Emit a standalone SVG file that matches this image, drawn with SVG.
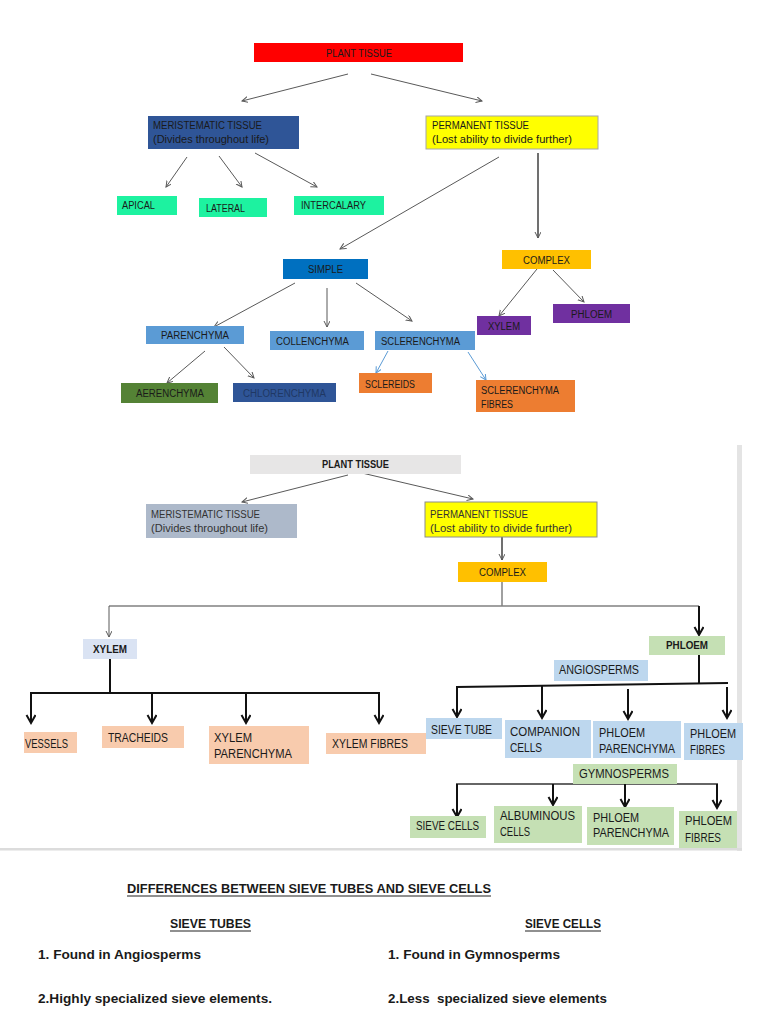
<svg xmlns="http://www.w3.org/2000/svg" width="768" height="1024" viewBox="0 0 768 1024">
<style>
text{font-family:"Liberation Sans",Arial,sans-serif;fill:#1a1a1a}
.s{font-size:10px}
.m{font-size:12px}
.b{font-weight:bold}
.g{fill:#333}
.thin{stroke:#595959;stroke-width:1;fill:none}
.dark{stroke:#404040;stroke-width:1.5;fill:none}
.blue{stroke:#5B9BD5;stroke-width:1;fill:none}
.gline{stroke:#808080;stroke-width:1.5;fill:none}
.bk{stroke:#111;stroke-width:2;fill:none}
.bt{font-size:13px;font-weight:bold}
</style>
<defs>
<marker id="ah" markerUnits="userSpaceOnUse" markerWidth="8" markerHeight="8" refX="6" refY="3" orient="auto"><path d="M0,0 L6,3 L0,6" stroke="#595959" stroke-width="1" fill="none"/></marker>
<marker id="ahb" markerUnits="userSpaceOnUse" markerWidth="8" markerHeight="8" refX="6" refY="3" orient="auto"><path d="M0,0 L6,3 L0,6" stroke="#5B9BD5" stroke-width="1" fill="none"/></marker>
<marker id="ahk" markerUnits="userSpaceOnUse" markerWidth="12" markerHeight="12" refX="9" refY="5" orient="auto"><path d="M1,0.5 L9,5 L1,9.5" stroke="#111" stroke-width="2" fill="none"/></marker>
</defs>
<rect width="768" height="1024" fill="#fff"/>
<!-- page edges -->
<rect x="737" y="445" width="5" height="406" fill="#E4E4E4"/>
<rect x="0" y="848" width="742" height="2.5" fill="#DCDCDC"/>

<g id="connectors">
<line class="thin" x1="348" y1="74" x2="242" y2="101" marker-end="url(#ah)"/>
<line class="thin" x1="371" y1="74" x2="482" y2="101" marker-end="url(#ah)"/>
<line class="thin" x1="187" y1="157" x2="166" y2="187" marker-end="url(#ah)"/>
<line class="thin" x1="219" y1="156" x2="242" y2="187" marker-end="url(#ah)"/>
<line class="thin" x1="255" y1="153" x2="317" y2="187" marker-end="url(#ah)"/>
<line class="thin" x1="499" y1="157" x2="340" y2="249" marker-end="url(#ah)"/>
<line class="dark" x1="538" y1="153" x2="538" y2="238" marker-end="url(#ah)"/>
<line class="thin" x1="295" y1="283" x2="214" y2="327" marker-end="url(#ah)"/>
<line class="thin" x1="327" y1="288" x2="327" y2="327" marker-end="url(#ah)"/>
<line class="thin" x1="356" y1="283" x2="412" y2="321" marker-end="url(#ah)"/>
<line class="thin" x1="537" y1="269" x2="499" y2="316" marker-end="url(#ah)"/>
<line class="thin" x1="553" y1="270" x2="584" y2="302" marker-end="url(#ah)"/>
<line class="thin" x1="205" y1="351" x2="167" y2="383" marker-end="url(#ah)"/>
<line class="thin" x1="224" y1="347" x2="254" y2="378" marker-end="url(#ah)"/>
<line class="blue" x1="388" y1="351" x2="376" y2="373" marker-end="url(#ahb)"/>
<line class="blue" x1="468" y1="352" x2="486" y2="380" marker-end="url(#ahb)"/>

<line class="thin" x1="348" y1="475" x2="242" y2="502" marker-end="url(#ah)"/>
<line class="thin" x1="362" y1="473" x2="473" y2="499" marker-end="url(#ah)"/>
<line class="dark" x1="502" y1="537" x2="502" y2="560" marker-end="url(#ah)"/>
<polyline class="gline" points="502,582 502,606"/>
<line class="gline" x1="109" y1="606" x2="699" y2="606"/>
<line class="thin" x1="109" y1="606" x2="109" y2="637" marker-end="url(#ah)"/>
<line class="bk" x1="699" y1="606" x2="699" y2="635" marker-end="url(#ahk)"/>

<line class="bk" x1="110" y1="659" x2="110" y2="693"/>
<line class="bk" x1="30" y1="693" x2="380" y2="693"/>
<line class="bk" x1="31" y1="693" x2="31" y2="723" marker-end="url(#ahk)"/>
<line class="bk" x1="152" y1="693" x2="152" y2="723" marker-end="url(#ahk)"/>
<line class="bk" x1="246" y1="693" x2="246" y2="723" marker-end="url(#ahk)"/>
<line class="bk" x1="379" y1="693" x2="379" y2="723" marker-end="url(#ahk)"/>

<line class="bk" x1="699" y1="655" x2="699" y2="684"/>
<line class="bk" x1="456" y1="687" x2="728" y2="683"/>
<line class="bk" x1="457" y1="687" x2="457" y2="717" marker-end="url(#ahk)"/>
<line class="bk" x1="542" y1="686" x2="542" y2="718" marker-end="url(#ahk)"/>
<line class="bk" x1="628" y1="689" x2="628" y2="719" marker-end="url(#ahk)"/>
<line class="bk" x1="727" y1="687" x2="727" y2="718" marker-end="url(#ahk)"/>

<line class="gline" x1="456" y1="784" x2="718" y2="784" style="stroke:#333"/>
<line class="bk" x1="457" y1="784" x2="457" y2="817" marker-end="url(#ahk)"/>
<line class="bk" x1="553" y1="784" x2="553" y2="805" marker-end="url(#ahk)"/>
<line class="bk" x1="625" y1="784" x2="625" y2="807" marker-end="url(#ahk)"/>
<line class="bk" x1="717" y1="784" x2="717" y2="808" marker-end="url(#ahk)"/>
</g>

<!-- top tree -->
<g id="plant1"><rect x="254" y="43" width="209" height="19" fill="#FF0000"/><text class="s" x="326" y="57" textLength="66" lengthAdjust="spacingAndGlyphs">PLANT TISSUE</text></g>
<g id="meri1"><rect x="148" y="116" width="151" height="33" fill="#2F5597"/><text class="s" x="153" y="129" textLength="109" lengthAdjust="spacingAndGlyphs">MERISTEMATIC TISSUE</text><text class="s" x="153" y="143" textLength="116" lengthAdjust="spacingAndGlyphs">(Divides throughout life)</text></g>
<g id="perm1"><rect x="426" y="116" width="172" height="33" fill="#FFFF00" stroke="#A6A6A6"/><text class="s" x="432" y="129" textLength="97" lengthAdjust="spacingAndGlyphs">PERMANENT TISSUE</text><text class="s" x="432" y="143" textLength="140" lengthAdjust="spacingAndGlyphs">(Lost ability to divide further)</text></g>
<g id="apical"><rect x="117" y="196" width="60" height="19" fill="#1DF2A0"/><text class="s" x="122" y="209" textLength="33" lengthAdjust="spacingAndGlyphs">APICAL</text></g>
<g id="lateral"><rect x="199" y="198" width="68" height="19" fill="#1DF2A0"/><text class="s" x="206" y="212" textLength="39" lengthAdjust="spacingAndGlyphs">LATERAL</text></g>
<g id="intercalary"><rect x="294" y="196" width="90" height="19" fill="#1DF2A0"/><text class="s" x="301" y="209" textLength="65" lengthAdjust="spacingAndGlyphs">INTERCALARY</text></g>
<g id="simple"><rect x="283" y="259" width="85" height="20" fill="#0070C0"/><text class="s" x="308" y="273" textLength="35" lengthAdjust="spacingAndGlyphs">SIMPLE</text></g>
<g id="complex1"><rect x="502" y="250" width="89" height="19" fill="#FFC000"/><text class="s" x="523" y="264" textLength="47" lengthAdjust="spacingAndGlyphs">COMPLEX</text></g>
<g id="xylem1"><rect x="477" y="316" width="54" height="19" fill="#7030A0"/><text class="s" x="488" y="330" textLength="32" lengthAdjust="spacingAndGlyphs">XYLEM</text></g>
<g id="phloem1"><rect x="553" y="304" width="77" height="19" fill="#7030A0"/><text class="s" x="571" y="318" textLength="41" lengthAdjust="spacingAndGlyphs">PHLOEM</text></g>
<g id="parenchyma"><rect x="146" y="326" width="98" height="18" fill="#5B9BD5"/><text class="s" x="161" y="339" textLength="68" lengthAdjust="spacingAndGlyphs">PARENCHYMA</text></g>
<g id="collenchyma"><rect x="270" y="331" width="94" height="19" fill="#5B9BD5"/><text class="s" x="276" y="345" textLength="73" lengthAdjust="spacingAndGlyphs">COLLENCHYMA</text></g>
<g id="sclerenchyma"><rect x="375" y="331" width="100" height="19" fill="#5B9BD5"/><text class="s" x="381" y="345" textLength="79" lengthAdjust="spacingAndGlyphs">SCLERENCHYMA</text></g>
<g id="aerenchyma"><rect x="121" y="383" width="97" height="20" fill="#548235"/><text class="s" x="136" y="397" textLength="68" lengthAdjust="spacingAndGlyphs">AERENCHYMA</text></g>
<g id="chlorenchyma"><rect x="233" y="383" width="103" height="19" fill="#2F5597"/><text class="s" x="243" y="397" textLength="83" lengthAdjust="spacingAndGlyphs" style="fill:#1F3864">CHLORENCHYMA</text></g>
<g id="sclereids"><rect x="359" y="373" width="73" height="20" fill="#ED7D31"/><text class="s" x="365" y="388" textLength="50" lengthAdjust="spacingAndGlyphs">SCLEREIDS</text></g>
<g id="sclfibres"><rect x="476" y="380" width="99" height="32" fill="#ED7D31"/><text class="s" x="481" y="394" textLength="78" lengthAdjust="spacingAndGlyphs">SCLERENCHYMA</text><text class="s" x="481" y="408" textLength="32" lengthAdjust="spacingAndGlyphs">FIBRES</text></g>

<!-- second tree -->
<g id="plant2"><rect x="250" y="455" width="211" height="19" fill="#E7E6E6"/><text class="s b" x="322" y="468" textLength="67" lengthAdjust="spacingAndGlyphs">PLANT TISSUE</text></g>
<g id="meri2"><rect x="146" y="504" width="151" height="34" fill="#ADB9CA"/><text class="s g" x="151" y="518" textLength="109" lengthAdjust="spacingAndGlyphs">MERISTEMATIC TISSUE</text><text class="s g" x="151" y="532" textLength="117" lengthAdjust="spacingAndGlyphs">(Divides throughout life)</text></g>
<g id="perm2"><rect x="425" y="502" width="172" height="35" fill="#FFFF00" stroke="#8C8C8C"/><text class="s g" x="430" y="518" textLength="98" lengthAdjust="spacingAndGlyphs">PERMANENT TISSUE</text><text class="s g" x="430" y="532" textLength="142" lengthAdjust="spacingAndGlyphs">(Lost ability to divide further)</text></g>
<g id="complex2"><rect x="458" y="562" width="89" height="20" fill="#FFC000"/><text class="s" x="479" y="576" textLength="47" lengthAdjust="spacingAndGlyphs">COMPLEX</text></g>
<g id="xylem2"><rect x="83" y="639" width="54" height="20" fill="#DAE3F3"/><text class="s b" x="93" y="653" textLength="34" lengthAdjust="spacingAndGlyphs">XYLEM</text></g>
<g id="vessels"><rect x="24" y="732" width="53" height="21" fill="#F8CBAD"/><text class="m" x="25" y="748" textLength="43" lengthAdjust="spacingAndGlyphs">VESSELS</text></g>
<g id="tracheids"><rect x="102" y="726" width="82" height="22" fill="#F8CBAD"/><text class="m" x="108" y="742" textLength="60" lengthAdjust="spacingAndGlyphs">TRACHEIDS</text></g>
<g id="xparen"><rect x="209" y="726" width="100" height="38" fill="#F8CBAD"/><text class="m" x="214" y="742" textLength="38" lengthAdjust="spacingAndGlyphs">XYLEM</text><text class="m" x="214" y="758" textLength="78" lengthAdjust="spacingAndGlyphs">PARENCHYMA</text></g>
<g id="xfibres"><rect x="326" y="733" width="100" height="21" fill="#F8CBAD"/><text class="m" x="332" y="748" textLength="76" lengthAdjust="spacingAndGlyphs">XYLEM FIBRES</text></g>
<g id="phloem2"><rect x="649" y="636" width="76" height="19" fill="#C5E0B4"/><text class="s b" x="666" y="649" textLength="42" lengthAdjust="spacingAndGlyphs">PHLOEM</text></g>
<g id="angio"><rect x="554" y="660" width="94" height="21" fill="#BDD7EE"/><text class="m" x="559" y="674" textLength="80" lengthAdjust="spacingAndGlyphs">ANGIOSPERMS</text></g>
<g id="sievetube"><rect x="426" y="718" width="76" height="21" fill="#BDD7EE"/><text class="m" x="431" y="734" textLength="61" lengthAdjust="spacingAndGlyphs">SIEVE TUBE</text></g>
<g id="companion"><rect x="505" y="720" width="86" height="38" fill="#BDD7EE"/><text class="m" x="510" y="736" textLength="70" lengthAdjust="spacingAndGlyphs">COMPANION</text><text class="m" x="510" y="752" textLength="32" lengthAdjust="spacingAndGlyphs">CELLS</text></g>
<g id="pparen1"><rect x="593" y="721" width="88" height="37" fill="#BDD7EE"/><text class="m" x="599" y="737" textLength="46" lengthAdjust="spacingAndGlyphs">PHLOEM</text><text class="m" x="599" y="753" textLength="76" lengthAdjust="spacingAndGlyphs">PARENCHYMA</text></g>
<g id="pfibres1"><rect x="684" y="723" width="59" height="37" fill="#BDD7EE"/><text class="m" x="690" y="738" textLength="46" lengthAdjust="spacingAndGlyphs">PHLOEM</text><text class="m" x="690" y="754" textLength="35" lengthAdjust="spacingAndGlyphs">FIBRES</text></g>
<g id="gymno"><rect x="573" y="764" width="104" height="20" fill="#C5E0B4"/><text class="m" x="579" y="778" textLength="90" lengthAdjust="spacingAndGlyphs">GYMNOSPERMS</text></g>
<g id="sievecells"><rect x="410" y="816" width="76" height="22" fill="#C5E0B4"/><text class="m" x="416" y="830" textLength="63" lengthAdjust="spacingAndGlyphs">SIEVE CELLS</text></g>
<g id="albuminous"><rect x="494" y="806" width="88" height="37" fill="#C5E0B4"/><text class="m" x="500" y="820" textLength="75" lengthAdjust="spacingAndGlyphs">ALBUMINOUS</text><text class="m" x="500" y="836" textLength="30" lengthAdjust="spacingAndGlyphs">CELLS</text></g>
<g id="pparen2"><rect x="587" y="807" width="87" height="38" fill="#C5E0B4"/><text class="m" x="593" y="822" textLength="46" lengthAdjust="spacingAndGlyphs">PHLOEM</text><text class="m" x="593" y="837" textLength="76" lengthAdjust="spacingAndGlyphs">PARENCHYMA</text></g>
<g id="pfibres2"><rect x="679" y="811" width="58" height="37" fill="#C5E0B4"/><text class="m" x="685" y="825" textLength="47" lengthAdjust="spacingAndGlyphs">PHLOEM</text><text class="m" x="685" y="842" textLength="36" lengthAdjust="spacingAndGlyphs">FIBRES</text></g>

<!-- differences -->
<g id="differences">
<text class="bt" x="127" y="893" textLength="364" lengthAdjust="spacingAndGlyphs" style="font-size:12px">DIFFERENCES BETWEEN SIEVE TUBES AND SIEVE CELLS</text>
<line x1="127" y1="896" x2="491" y2="896" stroke="#222" stroke-width="1.2"/>
<text class="bt" x="170" y="928" textLength="81" lengthAdjust="spacingAndGlyphs" style="font-size:12px">SIEVE TUBES</text>
<line x1="170" y1="931" x2="251" y2="931" stroke="#222" stroke-width="1.2"/>
<text class="bt" x="525" y="928" textLength="76" lengthAdjust="spacingAndGlyphs" style="font-size:12px">SIEVE CELLS</text>
<line x1="525" y1="931" x2="601" y2="931" stroke="#222" stroke-width="1.2"/>
<text class="bt" x="38" y="959" textLength="163" lengthAdjust="spacingAndGlyphs">1. Found in Angiosperms</text>
<text class="bt" x="388" y="959" textLength="172" lengthAdjust="spacingAndGlyphs">1. Found in Gymnosperms</text>
<text class="bt" x="38" y="1003" textLength="234" lengthAdjust="spacingAndGlyphs">2.Highly specialized sieve elements.</text>
<text class="bt" x="388" y="1003" textLength="219" lengthAdjust="spacingAndGlyphs" xml:space="preserve">2.Less  specialized sieve elements</text>
</g>
</svg>
